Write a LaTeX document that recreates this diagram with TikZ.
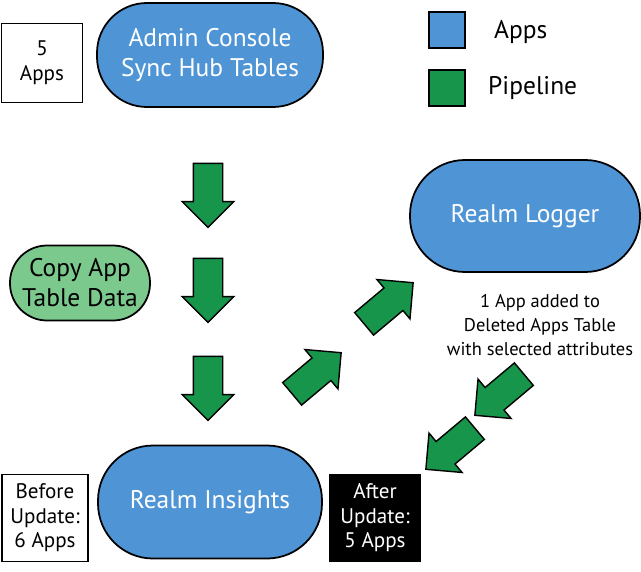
\documentclass[tikz,border=0pt]{standalone}
\usepackage{fontspec}
\setmainfont{PT Sans}
\usetikzlibrary{shapes.arrows}
\definecolor{appblue}{HTML}{4F95D6}
\definecolor{pipegreen}{HTML}{17954A}
\definecolor{lightgreen}{HTML}{7CC98E}
\begin{document}
\begin{tikzpicture}[x=0.02cm,y=-0.02cm,
  pill/.style={draw=black,line width=1pt,fill=appblue,text=white,font=\fontsize{14.5}{17}\selectfont,align=center,inner sep=0pt},
  box/.style={draw=black,line width=1pt,fill=white,align=center,font=\fontsize{12}{14}\selectfont,inner sep=0pt},
  arr/.style={single arrow,draw=black,line width=0.8pt,fill=pipegreen,minimum width=50*0.02cm,minimum height=64*0.02cm,inner xsep=0pt,inner ysep=0.28cm,single arrow head extend=0.22cm}]
\useasboundingbox (0,0) rectangle (641,571);
\node[box,minimum width=81*0.02cm,minimum height=79*0.02cm] (five) at (42,63) {5\\Apps};
\node[pill,rounded corners=1.0cm,minimum width=226*0.02cm,minimum height=104*0.02cm] (admin) at (210,55) {Admin Console\\Sync Hub Tables};
\node[draw=black,line width=1pt,fill=appblue,minimum size=36*0.02cm,inner sep=0pt] (lb) at (447,30) {};
\node[anchor=west,font=\fontsize{14.5}{17}\selectfont] (lbt) at (488,32) {Apps};
\node[draw=black,line width=1pt,fill=pipegreen,minimum size=36*0.02cm,inner sep=0pt] (lg) at (447,88) {};
\node[anchor=west,font=\fontsize{14.5}{17}\selectfont] (lgt) at (482,88) {Pipeline};
\node[arr,rotate=-90] (d1) at (208,188) {};
\node[arr,rotate=-90] (d2) at (208,283) {};
\node[arr,rotate=-90] (d3) at (208,381) {};
\node[draw=black,line width=1pt,fill=lightgreen,rounded corners=0.74cm,minimum width=140*0.02cm,minimum height=75*0.02cm,align=center,font=\fontsize{14.5}{17}\selectfont,inner sep=0pt] (copy) at (80,283) {Copy App\\Table Data};
\node[pill,minimum width=230*0.02cm,minimum height=112*0.02cm,rounded corners=1.1cm] (logger) at (525,216) {Realm Logger};
\node[align=center,font=\fontsize{10.5}{13.5}\selectfont,inner sep=0pt] (note) at (540,325) {1 App added to\\Deleted Apps Table\\with selected attributes};
\node[arr,rotate=40] (u1) at (311,378) {};
\node[arr,rotate=40] (u2) at (383,308) {};
\node[arr,rotate=220] (l1) at (505,390) {};
\node[arr,rotate=220] (l2) at (456,444) {};
\node[pill,minimum width=224*0.02cm,minimum height=113*0.02cm,rounded corners=1.1cm] (insights) at (210,502) {Realm Insights};
\node[box,minimum width=86*0.02cm,minimum height=87*0.02cm] (before) at (45,518) {Before\\Update:\\6 Apps};
\node[box,fill=black,text=white,minimum width=90*0.02cm,minimum height=87*0.02cm] (after) at (375,518) {After\\Update:\\5 Apps};
\end{tikzpicture}
\end{document}
